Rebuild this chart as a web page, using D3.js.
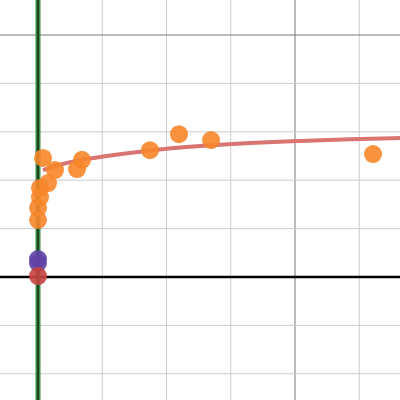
<!DOCTYPE html><html><head><script src="https://cdn.jsdelivr.net/npm/d3@7"></script>
<style>body{margin:0}svg{display:block}</style></head><body><svg width="400" height="400"></svg>
<script>
const orangeX=[0.078,0.265,0.156,0.031,0.031,0,0,0.685,0.607,1.743,2.194,2.693,5.214];
const orangeY=[2.46,2.21,1.94,1.84,1.65,1.43,1.18,2.42,2.23,2.62,2.95,2.83,2.54];
const purpleX=[0,0];const purpleY=[0.37,0.29];
const redX=[0];const redY=[0.02];
const curveX=[0.078,0.342,0.654,0.965,1.743,2.521,3.300,4.078,4.856,5.634];
const curveY=[2.21,2.33,2.42,2.48,2.62,2.71,2.77,2.81,2.85,2.87];
const x=d3.scaleLinear().domain([0,1]).range([38,102.25]);
const y=d3.scaleLinear().domain([0,1]).range([277,228.6]);
const svg=d3.select("svg");
svg.append("rect").attr("width",400).attr("height",400).attr("fill","#fff");
const xs=d3.range(-1,7),ys=d3.range(-3,9);
svg.selectAll(".gx").data(xs).join("line").attr("x1",d=>x(d)).attr("x2",d=>x(d)).attr("y1",0).attr("y2",400)
 .attr("stroke",d=>d===4?"#777":"#ccc").attr("stroke-width",1);
svg.selectAll(".gy").data(ys).join("line").attr("y1",d=>y(d)).attr("y2",d=>y(d)).attr("x1",0).attr("x2",400)
 .attr("stroke",d=>d===5?"#777":"#ccc").attr("stroke-width",1);
svg.append("line").attr("x1",0).attr("x2",400).attr("y1",y(0)).attr("y2",y(0)).attr("stroke","#000").attr("stroke-width",2.5);
svg.append("line").attr("x1",x(0)).attr("x2",x(0)).attr("y1",0).attr("y2",400).attr("stroke","#388c46").attr("stroke-width",5);
svg.append("line").attr("x1",x(0)).attr("x2",x(0)).attr("y1",0).attr("y2",400).attr("stroke","#000").attr("stroke-width",1);
svg.append("path").datum(curveX.map((v,i)=>[v,curveY[i]])).attr("fill","none").attr("stroke","#d87471").attr("stroke-width",4)
 .attr("d",d3.line().x(d=>x(d[0])).y(d=>y(d[1])).curve(d3.curveBasis));
function pts(X,Y,c){svg.append("g").selectAll("circle").data(X.map((v,i)=>[v,Y[i]])).join("circle")
 .attr("cx",d=>x(d[0])).attr("cy",d=>y(d[1])).attr("r",9).attr("fill",c).attr("fill-opacity",0.9);}
pts(orangeX,orangeY,"#f7862a");pts(purpleX,purpleY,"#6042a6");pts(redX,redY,"#c74440");
</script></body></html>
